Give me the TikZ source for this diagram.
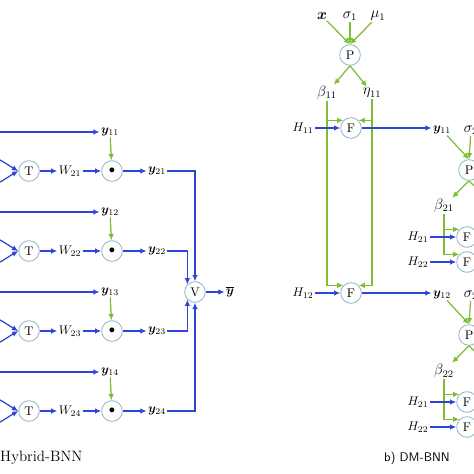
\documentclass[tikz,border=0pt]{standalone}
\usepackage{amsmath, amssymb}
\usepackage{bm}
\usetikzlibrary{calc}
\usetikzlibrary{positioning}
\usetikzlibrary{arrows.meta}
\definecolor{line-blue}{RGB}{45, 70, 215}
\definecolor{line-green}{RGB}{125, 190, 50}
\definecolor{ring-gray}{RGB}{150, 185, 205}

\tikzset{
  op/.style={circle, draw=ring-gray, line width=0.7pt, minimum size=16.5pt, inner sep=0pt},
  lbl/.style={inner sep=1pt},
  big/.style={inner sep=1pt, font=\large},
  barrow/.style={-{Latex[length=5pt,width=4.5pt]}, draw=line-blue, line width=1pt},
  garrow/.style={-{Latex[length=5pt,width=4.5pt]}, draw=line-green, line width=1pt},
}

\begin{document}
\begin{tikzpicture}[x=0.8pt, y=-0.8pt]
\useasboundingbox (0,0) rectangle (474,474);

% a) hybrid network
\foreach \k in {1,...,4} {
  \pgfmathsetmacro{\ya}{132+80*(\k-1)}
  \pgfmathsetmacro{\yb}{171+80*(\k-1)}
  \coordinate (s\k) at (-10,\ya);
  \coordinate (u\k) at (-20,\yb-16);
  \coordinate (d\k) at (-20,\yb+16);
  \node[lbl] (y1\k) at (110,\ya) {$\bm{y}_{1\k}$};
  \node[op] (T\k) at (29,\yb) {T};
  \node[lbl] (W\k) at (70,\yb) {$W_{2\k}$};
  \node[op] (m\k) at (112,\yb) {$\bullet$};
  \node[lbl] (y2\k) at (157,\yb) {$\bm{y}_{2\k}$};
  \draw[barrow] (s\k) -- (y1\k);
  \draw[barrow] (u\k) to[out=0,in=150] (T\k.west);
  \draw[barrow] (d\k) to[out=0,in=210] (T\k.west);
  \draw[barrow] (T\k) -- (W\k);
  \draw[barrow] (W\k) -- (m\k);
  \draw[barrow] (m\k) -- (y2\k);
  \draw[garrow] (y1\k) -- (m\k);
}
\node[op] (V) at (195,292) {V};
\node[lbl] (yb) at (230,292) {$\overline{\bm{y}}$};
\draw[barrow] (y21) -| (V.north);
\draw[barrow] (y22) -| (V.north west);
\draw[barrow] (y23) -| (V.south west);
\draw[barrow] (y24) -| (V.south);
\draw[barrow] (V) -- (yb);
\node[anchor=west, inner sep=0pt] (capa) at (0,458) {\large Hybrid-BNN};

% b) DM network
\node[big] (x) at (322,16) {$\bm{x}$};
\node[big] (sig1) at (350,16) {$\sigma_1$};
\node[big] (mu1) at (378,16) {$\mu_1$};
\node[op] (P1) at (350,55) {P};
\node[big] (b11) at (327,93) {$\beta_{11}$};
\node[big] (e11) at (372,93) {$\eta_{11}$};
\node[op] (F11) at (351,128) {F};
\node[op] (F12) at (351,293) {F};
\node[lbl] (H11) at (303,128) {$H_{11}$};
\node[lbl] (H12) at (303,293) {$H_{12}$};
\node[lbl] (o11) at (442,130) {$\bm{y}_{11}$};
\node[lbl] (o12) at (442,295) {$\bm{y}_{12}$};
\draw[garrow] (x) -- (P1.north);
\draw[garrow] (sig1) -- (P1.north);
\draw[garrow] (mu1) -- (P1.north);
\draw[garrow] (P1.south) -- (b11);
\draw[garrow] (P1.south) -- (e11);
\draw[garrow] (b11.south) |- (F12.north west);
\draw[garrow] (b11.south |- F11.north west) -- (F11.north west);
\draw[garrow] (e11.south) |- (F12.north east);
\draw[garrow] (e11.south |- F11.north east) -- (F11.north east);
\draw[barrow] (H11) -- (F11);
\draw[barrow] (H12) -- (F12);
\draw[barrow] (F11) -- (F11 -| o11.west);
\draw[barrow] (F12) -- (F12 -| o12.west);

\foreach \j/\yy in {1/128, 2/293} {
  \node[big] (sg\j) at (471,\yy+2) {$\sigma_2$};
  \node[op] (Pc\j) at (469,\yy+42) {P};
  \node[big] (bc\j) at (444,\yy+78) {$\beta_{2\j}$};
  \coordinate (ec\j) at (494,\yy+78);
  \node[op] (Fu\j) at (467,\yy+109) {F};
  \node[op] (Fd\j) at (467,\yy+134) {F};
  \node[lbl] (Hu\j) at (418,\yy+109) {$H_{21}$};
  \node[lbl] (Hd\j) at (418,\yy+134) {$H_{22}$};
  \draw[garrow] (o1\j) -- (Pc\j.north);
  \draw[garrow] (sg\j) -- (Pc\j.north);
  \draw[garrow] (Pc\j.south) -- (bc\j);
  \draw[garrow] (Pc\j.south) -- (ec\j);
  \draw[garrow] (bc\j.south) |- (Fd\j.north west);
  \draw[garrow] (bc\j.south |- Fu\j.north west) -- (Fu\j.north west);
  \draw[barrow] (Hu\j) -- (Fu\j);
  \draw[barrow] (Hd\j) -- (Fd\j);
}
\node[font=\sffamily] (capb) at (417,458) {b) DM-BNN};
\end{tikzpicture}
\end{document}
